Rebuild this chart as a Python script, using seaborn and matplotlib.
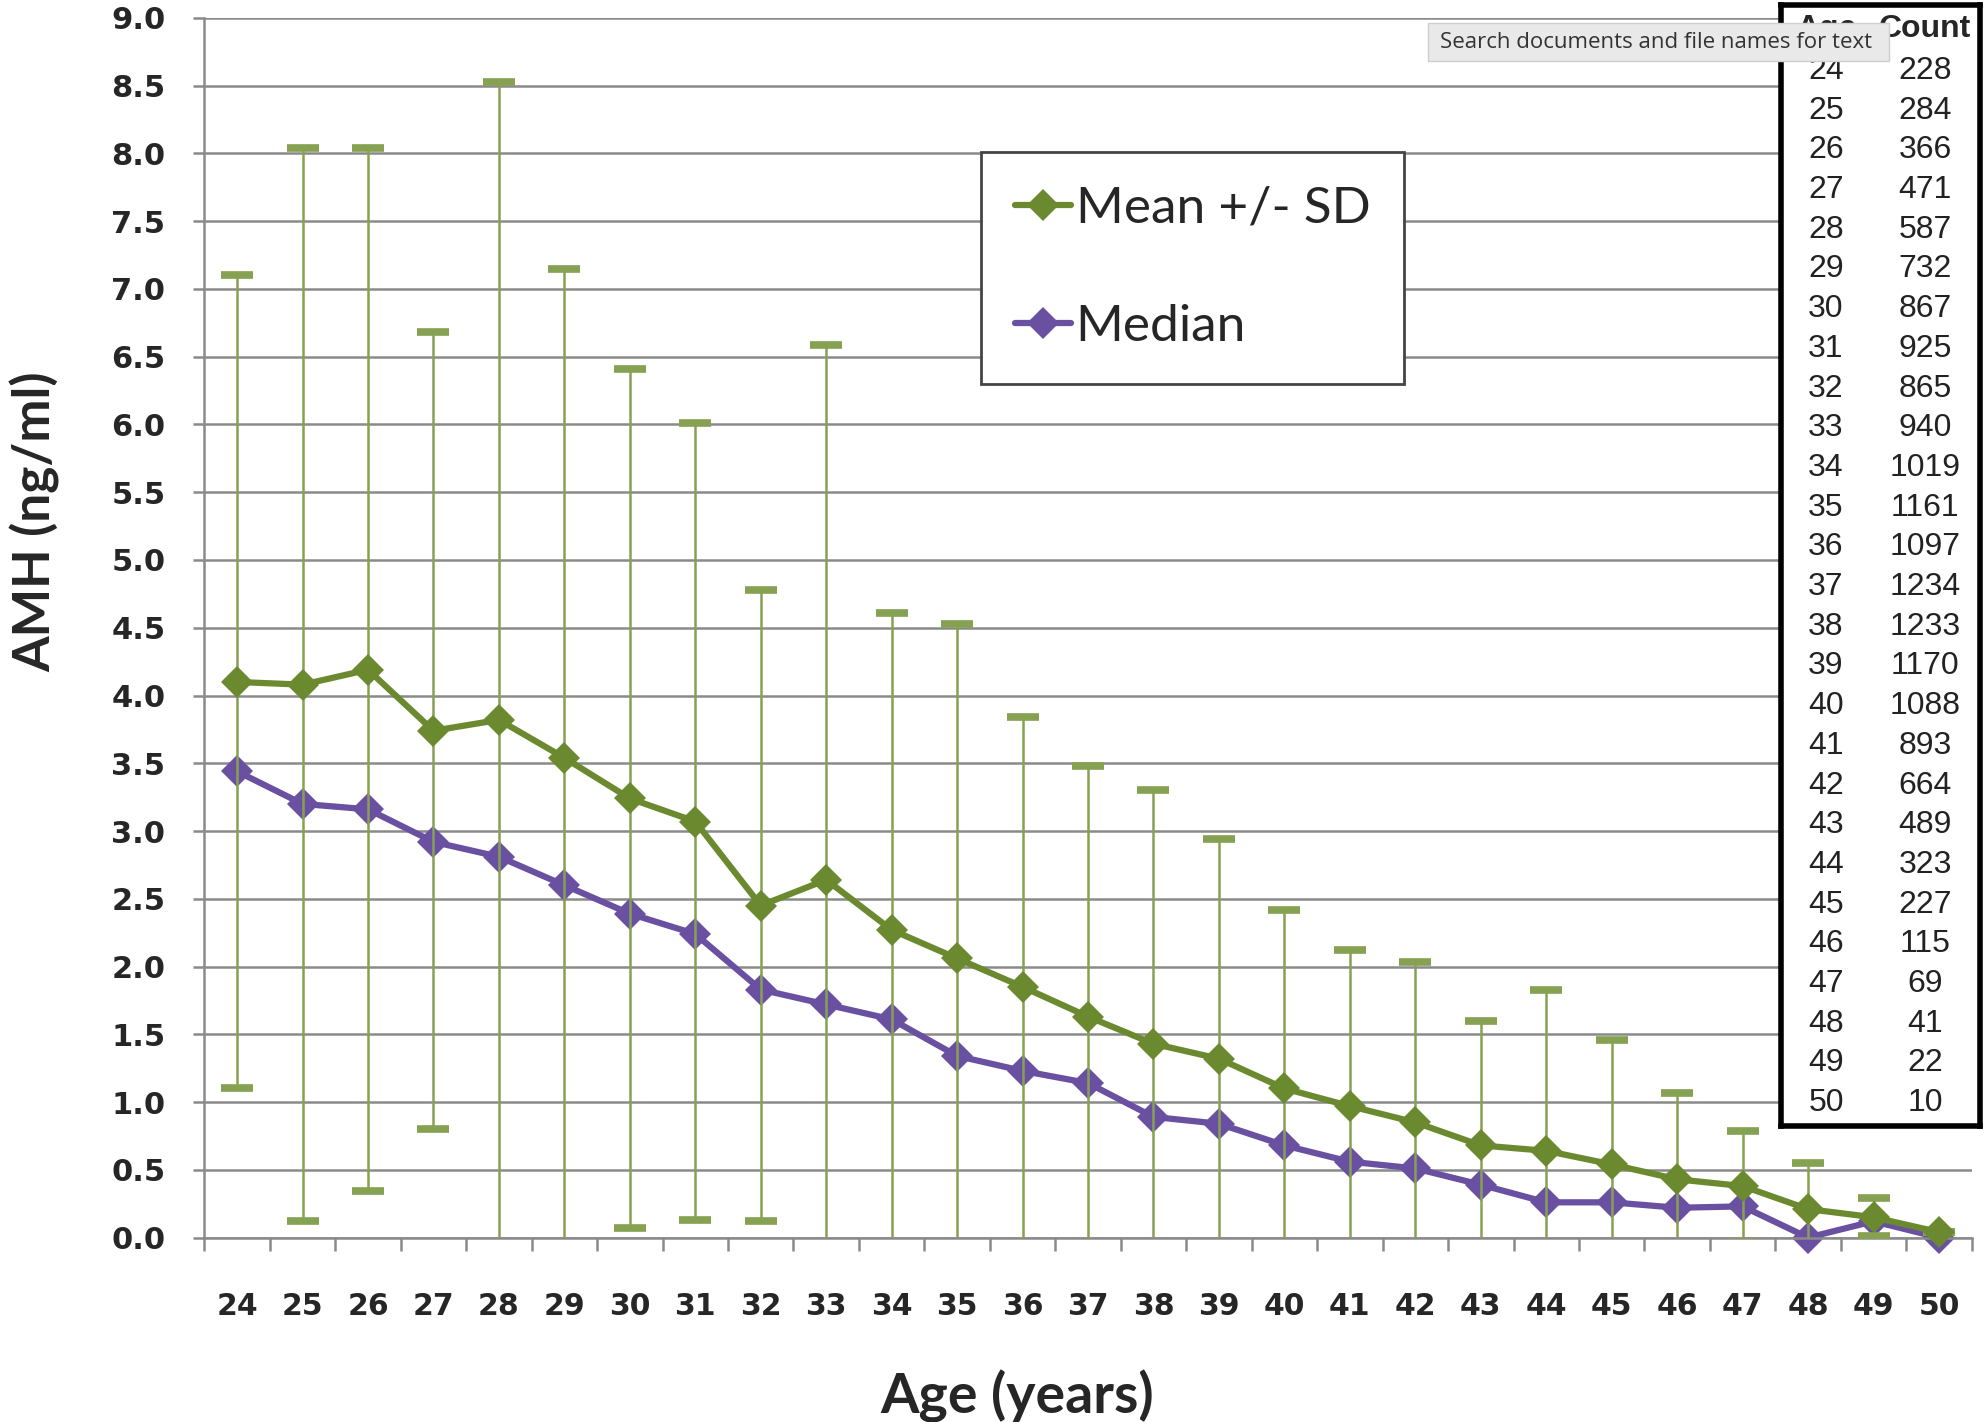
import numpy as np
import pandas as pd
import matplotlib
matplotlib.use("Agg")
import matplotlib.pyplot as plt
import matplotlib.patches as mpatches
import seaborn as sns

# AMH by age
ages = list(range(24, 51))
mean_amh = [4.10, 4.08, 4.19, 3.74, 3.82, 3.54, 3.24, 3.07, 2.45, 2.64,
            2.27, 2.06, 1.85, 1.63, 1.43, 1.32, 1.10, 0.97, 0.85, 0.68,
            0.64, 0.54, 0.43, 0.38, 0.21, 0.15, 0.04]
sd_amh = [3.00, 3.96, 3.85, 2.94, 4.71, 3.61, 3.17, 2.94, 2.33, 3.95,
          2.34, 2.47, 1.99, 1.85, 1.87, 1.62, 1.32, 1.15, 1.18, 0.92,
          1.19, 0.92, 0.64, 0.41, 0.34, 0.14, 0.0]
median_amh = [3.44, 3.20, 3.16, 2.92, 2.81, 2.60, 2.39, 2.24, 1.83, 1.72,
              1.61, 1.34, 1.23, 1.14, 0.89, 0.84, 0.68, 0.56, 0.51, 0.39,
              0.26, 0.26, 0.22, 0.23, 0.0, 0.12, 0.0]
counts = [228, 284, 366, 471, 587, 732, 867, 925, 865, 940, 1019, 1161, 1097,
          1234, 1233, 1170, 1088, 893, 664, 489, 323, 227, 115, 69, 41, 22, 10]
y_ticks = np.arange(0, 9.01, 0.5)

df = pd.DataFrame({"age": ages, "mean": mean_amh, "sd": sd_amh,
                   "median": median_amh, "count": counts})

green = "#6b8a30"
bar_green = "#86a152"
purple = "#6a50a0"
grid_grey = "#8a8a8a"

sns.set_theme(style="white")
plt.rcParams["font.family"] = ["DejaVu Sans"]

fig = plt.figure(figsize=(19.88, 14.22), dpi=100)
ax = fig.add_axes([0.1028, 0.1297, 0.889, 0.8577])

sns.lineplot(data=df, x="age", y="median", ax=ax, color=purple, linewidth=4.5,
             marker="D", markersize=16, markeredgewidth=0, label="Median",
             zorder=2, clip_on=False)
ax.errorbar(df["age"], df["mean"], yerr=df["sd"], fmt="none", ecolor=bar_green,
            elinewidth=1.8, capsize=11.5, capthick=5.5, zorder=3)
sns.lineplot(data=df, x="age", y="mean", ax=ax, color=green, linewidth=4.5,
             marker="D", markersize=16, markeredgewidth=0, label="Mean +/- SD",
             zorder=4, clip_on=False)

ax.set_xlim(23.5, 50.5)
ax.set_ylim(0, 9)

# Excel-style category axis: ticks between categories, labels in the middle
ax.set_xticks(np.arange(23.5, 51, 1))
ax.set_xticklabels([])
ax.set_xticks(ages, minor=True)
ax.set_xticklabels([str(a) for a in ages], minor=True)
ax.tick_params(axis="x", which="major", direction="out", length=9.5, width=1.8,
               color=grid_grey, bottom=True)
ax.tick_params(axis="x", which="minor", length=0, pad=39, labelsize=21.5)
for lab in ax.get_xticklabels(minor=True):
    lab.set_fontweight("bold")

ax.set_yticks(y_ticks)
ax.set_yticklabels([f"{v:.1f}" for v in y_ticks])
ax.tick_params(axis="y", direction="out", length=8, width=1.8, color=grid_grey,
               left=True, pad=20, labelsize=22)
for lab in ax.get_yticklabels():
    lab.set_fontweight("bold")

ax.yaxis.grid(True, color=grid_grey, linewidth=1.8)
ax.xaxis.grid(False)
for side in ["top", "right"]:
    ax.spines[side].set_visible(False)
for side in ["left", "bottom"]:
    ax.spines[side].set_color(grid_grey)
    ax.spines[side].set_linewidth(1.8)

ax.set_xlabel("Age (years)", fontsize=40, fontweight="bold", family=["Lato", "DejaVu Sans"],
              va="center")
ax.xaxis.set_label_coords(0.46, -0.130)
ax.set_ylabel("AMH (ng/ml)", fontsize=37, fontweight="bold", family=["Lato", "DejaVu Sans"],
              va="center")
ax.yaxis.set_label_coords(-0.0956, 0.587)

handles, labels = ax.get_legend_handles_labels()
order = [labels.index("Mean +/- SD"), labels.index("Median")]
leg = ax.legend([handles[i] for i in order], [labels[i] for i in order],
                loc="upper left", bbox_to_anchor=(981 / 1988, 1 - 152 / 1422),
                bbox_transform=fig.transFigure, borderaxespad=0,
                prop={"family": ["Lato", "DejaVu Sans"], "size": 37},
                frameon=True, fancybox=False, framealpha=1, edgecolor="#444444",
                handlelength=1.1, handletextpad=0.08, labelspacing=1.4,
                borderpad=0.66)
leg.get_frame().set_linewidth(2)
leg.set_zorder(6)

# count table on the right
tax = fig.add_axes([0.8959, 0.2082, 0.1001, 0.7883], zorder=5)
tax.set_xlim(0, 1)
tax.set_ylim(0, 1)
tax.set_xticks([])
tax.set_yticks([])
tax.set_facecolor("white")
for sp in tax.spines.values():
    sp.set_visible(True)
    sp.set_color("black")
    sp.set_linewidth(4)
row_top = 1 - (71 - 5) / 1121
row_step = 39.7 / 1121
tab_font = ["Liberation Sans", "DejaVu Sans"]
tax.text(0.226, 1 - 24 / 1121, "Age", ha="center", va="center", fontsize=23,
         fontweight="bold", family=tab_font)
tax.text(0.724, 1 - 24 / 1121, "Count", ha="center", va="center", fontsize=23,
         fontweight="bold", family=tab_font)
for i, (a, c) in enumerate(zip(ages, counts)):
    yy = row_top - i * row_step
    tax.text(0.226, yy, str(a), ha="center", va="center", fontsize=23, family=tab_font,
             color="#222222")
    tax.text(0.724, yy, str(c), ha="center", va="center", fontsize=23, family=tab_font,
             color="#222222")

# search tooltip that sits over the screenshot
tip = mpatches.Rectangle((1428 / 1988, 1 - 61 / 1422), 461 / 1988, 38 / 1422,
                         transform=fig.transFigure, facecolor="#e9e9e9",
                         edgecolor="#cfcfcf", linewidth=1, zorder=20)
fig.add_artist(tip)
fig.text(1440 / 1988, 1 - 42 / 1422, "Search documents and file names for text",
         ha="left", va="center", fontsize=16, color="#333333", zorder=21,
         family=["Open Sans", "DejaVu Sans"])

fig.savefig("out.png", dpi=100, facecolor="white")
